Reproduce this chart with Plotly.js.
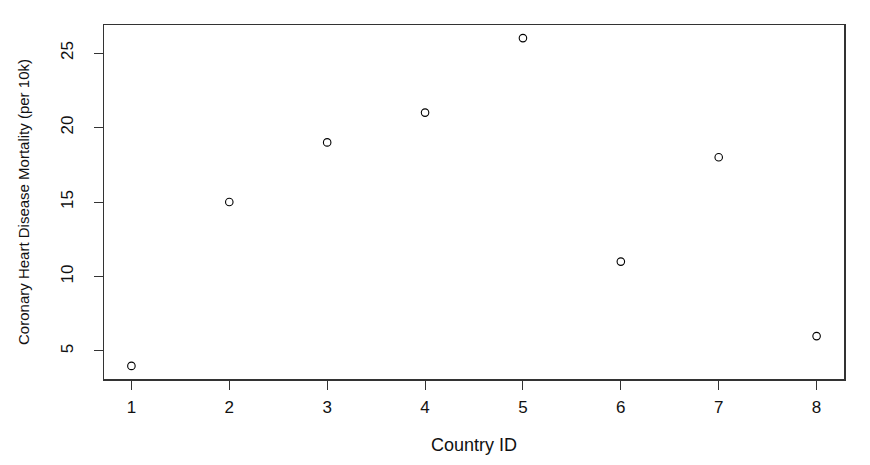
<!DOCTYPE html>
<html>
<head>
<meta charset="utf-8">
<script src="https://cdn.plot.ly/plotly-3.0.1.min.js"></script>
<style>
  html, body { margin: 0; padding: 0; background: #fff; }
  #myDiv { width: 870px; height: 465px; }
</style>
</head>
<body>
<div id="myDiv"></div>
<script>
// country ids and mortality per 10k
var countryId = [1, 2, 3, 4, 5, 6, 7, 8];
var mortality = [4, 15, 19, 21, 26, 11, 18, 6];
var xTicks = [1, 2, 3, 4, 5, 6, 7, 8];
var yTicks = [5, 10, 15, 20, 25];

var trace = {
  x: countryId,
  y: mortality,
  type: 'scatter',
  mode: 'markers',
  marker: {
    symbol: 'circle-open',
    size: 7.5,
    color: '#000',
    line: { width: 1.1, color: '#000' }
  },
  hoverinfo: 'x+y'
};

var fontName = 'Liberation Sans, Arial, sans-serif';
var axisFont = { family: fontName, size: 17, color: '#111' };

var layout = {
  width: 870,
  height: 465,
  showlegend: false,
  paper_bgcolor: '#fff',
  plot_bgcolor: '#fff',
  margin: { l: 104, r: 26, t: 25, b: 86 },
  xaxis: {
    range: [0.72, 8.28],
    tickvals: xTicks,
    ticks: 'outside',
    ticklen: 9,
    tickwidth: 1,
    tickcolor: '#333',
    ticklabelstandoff: 3,
    showgrid: false,
    zeroline: false,
    showline: true,
    mirror: true,
    linecolor: '#333',
    linewidth: 1.5,
    tickfont: axisFont,
    title: { text: 'Country ID', font: { family: fontName, size: 18, color: '#111' }, standoff: 22 }
  },
  yaxis: {
    range: [3.12, 26.88],
    tickvals: yTicks,
    tickangle: -90,
    ticks: 'outside',
    ticklen: 9,
    tickwidth: 1,
    tickcolor: '#333',
    ticklabelstandoff: 14,
    showgrid: false,
    zeroline: false,
    showline: true,
    mirror: true,
    linecolor: '#333',
    linewidth: 1.5,
    tickfont: axisFont,
    title: { text: 'Coronary Heart Disease Mortality (per 10k)', font: { family: fontName, size: 15, color: '#111' }, standoff: 24 }
  }
};

Plotly.newPlot('myDiv', [trace], layout, { displayModeBar: false, staticPlot: true });
</script>
</body>
</html>
